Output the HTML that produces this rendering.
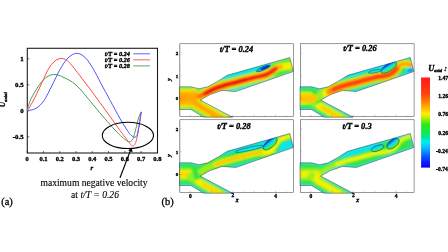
<!DOCTYPE html>
<html><head><meta charset="utf-8"><title>figure</title>
<style>
html,body{margin:0;padding:0;background:#fff;}
svg{display:block}
text{font-family:"Liberation Serif",serif;}
.bi{font-weight:bold;font-style:italic;stroke:#000;stroke-width:0.36px}
.b{font-weight:bold;stroke:#000;stroke-width:0.34px}
</style></head><body>
<svg width="448" height="252" viewBox="0 0 448 252">
<defs>
<filter id="bl" x="-10%" y="-10%" width="120%" height="120%"><feGaussianBlur stdDeviation="0.8"/></filter>
<filter id="bl2" x="-10%" y="-10%" width="120%" height="120%"><feGaussianBlur stdDeviation="0.5"/></filter>
<filter id="soft"><feGaussianBlur stdDeviation="0.35"/></filter>
<linearGradient id="cb" x1="0" y1="0" x2="0" y2="1">
<stop offset="0" stop-color="#ff1a1a"/>
<stop offset="0.18" stop-color="#ff4010"/>
<stop offset="0.26" stop-color="#ff7a00"/>
<stop offset="0.33" stop-color="#ffb000"/>
<stop offset="0.405" stop-color="#fff000"/>
<stop offset="0.45" stop-color="#b0f000"/>
<stop offset="0.52" stop-color="#30e818"/>
<stop offset="0.61" stop-color="#10e850"/>
<stop offset="0.67" stop-color="#00e8a0"/>
<stop offset="0.715" stop-color="#00f0f0"/>
<stop offset="0.79" stop-color="#10b0ff"/>
<stop offset="0.865" stop-color="#1060ff"/>
<stop offset="0.94" stop-color="#1020ff"/>
<stop offset="1" stop-color="#0000f0"/>
</linearGradient>

<linearGradient id="eg" x1="0" y1="0" x2="0" y2="1"><stop offset="0.02" stop-color="#1030e0"/><stop offset="0.2" stop-color="#1078f8"/><stop offset="0.4" stop-color="#10d4f8"/><stop offset="0.6" stop-color="#20e8a8"/><stop offset="0.82" stop-color="#48e848"/></linearGradient>
<linearGradient id="eg2" x1="0" y1="0" x2="0" y2="1"><stop offset="0.05" stop-color="#10b0ff"/><stop offset="0.45" stop-color="#10e8e0"/><stop offset="0.9" stop-color="#40e850"/></linearGradient>
<path id="chan" d="M179.50 86.80 L191.00 86.80 L199.00 88.80 L207.70 86.80 L217.00 81.70 L227.30 75.30 L289.80 57.50 L293.30 71.50 L235.80 91.50 L222.00 90.40 L210.00 94.60 L200.20 100.10 L232.50 117.20 L203.70 117.20 L191.00 109.50 L179.50 109.50Z"/>
<clipPath id="cc"><use href="#chan"/></clipPath>
</defs>
<g filter="url(#soft)">
<rect x="27.30" y="48.30" width="130.20" height="104.70" fill="none" stroke="#181818" stroke-width="1.05"/>
<path d="M27.20 153.00 v-2 M43.47 153.00 v-2 M59.74 153.00 v-2 M76.01 153.00 v-2 M92.28 153.00 v-2 M108.55 153.00 v-2 M124.82 153.00 v-2 M141.09 153.00 v-2 M157.36 153.00 v-2 M27.30 136.80 h2 M27.30 110.80 h2 M27.30 84.80 h2 M27.30 58.80 h2" stroke="#111" stroke-width="0.6" fill="none"/>
<text class="b" x="27.20" y="161.0" font-size="6.5" text-anchor="middle">0</text>
<text class="b" x="43.47" y="161.0" font-size="6.5" text-anchor="middle">0.1</text>
<text class="b" x="59.74" y="161.0" font-size="6.5" text-anchor="middle">0.2</text>
<text class="b" x="76.01" y="161.0" font-size="6.5" text-anchor="middle">0.3</text>
<text class="b" x="92.28" y="161.0" font-size="6.5" text-anchor="middle">0.4</text>
<text class="b" x="108.55" y="161.0" font-size="6.5" text-anchor="middle">0.5</text>
<text class="b" x="124.82" y="161.0" font-size="6.5" text-anchor="middle">0.6</text>
<text class="b" x="141.09" y="161.0" font-size="6.5" text-anchor="middle">0.7</text>
<text class="b" x="157.36" y="161.0" font-size="6.5" text-anchor="middle">0.8</text>
<text class="b" x="23.6" y="139.10" font-size="6.8" text-anchor="end">-0.5</text>
<text class="b" x="23.6" y="113.10" font-size="6.8" text-anchor="end">0</text>
<text class="b" x="23.6" y="87.10" font-size="6.8" text-anchor="end">0.5</text>
<text class="b" x="23.6" y="61.10" font-size="6.8" text-anchor="end">1</text>
<text class="bi" x="91.8" y="169.9" font-size="6.8" text-anchor="middle">r</text>
<text class="bi" transform="translate(5.3,107.3) rotate(-90)" font-size="7.5">U<tspan font-size="4.7" dy="1.3">axial</tspan></text>
<path d="M27.20 110.60 C27.50 109.50 28.37 105.97 29.00 104.00 C29.63 102.03 30.00 100.88 31.00 98.80 C32.00 96.72 33.67 93.73 35.00 91.50 C36.33 89.27 37.67 87.25 39.00 85.40 C40.33 83.55 41.50 81.93 43.00 80.40 C44.50 78.87 46.20 77.20 48.00 76.20 C49.80 75.20 51.97 74.55 53.80 74.40 C55.63 74.25 57.30 74.77 59.00 75.30 C60.70 75.83 62.17 76.72 64.00 77.60 C65.83 78.48 68.17 79.50 70.00 80.60 C71.83 81.70 73.33 82.80 75.00 84.20 C76.67 85.60 78.17 87.03 80.00 89.00 C81.83 90.97 83.50 93.00 86.00 96.00 C88.50 99.00 91.83 103.20 95.00 107.00 C98.17 110.80 101.67 114.97 105.00 118.80 C108.33 122.63 112.17 126.97 115.00 130.00 C117.83 133.03 120.08 135.23 122.00 137.00 C123.92 138.77 125.22 139.82 126.50 140.60 C127.78 141.38 128.73 141.83 129.70 141.70 C130.67 141.57 131.48 141.13 132.30 139.80 C133.12 138.47 133.55 137.35 134.60 133.70 C135.65 130.05 137.50 121.53 138.60 117.90 C139.70 114.27 140.77 112.90 141.20 111.90" fill="none" stroke="#4f9a55" stroke-width="1.0" stroke-linejoin="round"/>
<path d="M27.20 110.60 C27.83 109.63 29.70 107.03 31.00 104.80 C32.30 102.57 33.67 99.83 35.00 97.20 C36.33 94.57 37.53 92.12 39.00 89.00 C40.47 85.88 42.13 82.00 43.80 78.50 C45.47 75.00 47.30 70.78 49.00 68.00 C50.70 65.22 52.50 63.27 54.00 61.80 C55.50 60.33 56.72 59.75 58.00 59.20 C59.28 58.65 60.45 58.43 61.70 58.50 C62.95 58.57 64.12 58.82 65.50 59.60 C66.88 60.38 67.58 60.50 70.00 63.20 C72.42 65.90 76.67 71.50 80.00 75.80 C83.33 80.10 86.67 84.53 90.00 89.00 C93.33 93.47 96.67 98.02 100.00 102.60 C103.33 107.18 106.67 111.85 110.00 116.50 C113.33 121.15 117.17 126.62 120.00 130.50 C122.83 134.38 125.25 137.50 127.00 139.80 C128.75 142.10 129.55 143.27 130.50 144.30 C131.45 145.33 131.98 145.97 132.70 146.00 C133.42 146.03 134.12 145.75 134.80 144.50 C135.48 143.25 136.05 141.92 136.80 138.50 C137.55 135.08 138.57 128.43 139.30 124.00 C140.03 119.57 140.88 113.92 141.20 111.90" fill="none" stroke="#ff4848" stroke-width="1.0" stroke-linejoin="round"/>
<path d="M27.20 110.60 C28.67 110.23 33.20 110.08 36.00 108.40 C38.80 106.72 41.33 104.32 44.00 100.50 C46.67 96.68 49.33 90.67 52.00 85.50 C54.67 80.33 57.33 74.08 60.00 69.50 C62.67 64.92 65.23 60.70 68.00 58.00 C70.77 55.30 73.77 53.42 76.60 53.30 C79.43 53.18 82.27 54.77 85.00 57.30 C87.73 59.83 90.33 64.13 93.00 68.50 C95.67 72.87 98.17 78.22 101.00 83.50 C103.83 88.78 106.83 94.37 110.00 100.20 C113.17 106.03 117.00 113.28 120.00 118.50 C123.00 123.72 126.00 128.60 128.00 131.50 C130.00 134.40 130.87 134.95 132.00 135.90 C133.13 136.85 133.92 137.42 134.80 137.20 C135.68 136.98 136.55 136.63 137.30 134.60 C138.05 132.57 138.65 128.78 139.30 125.00 C139.95 121.22 140.88 114.08 141.20 111.90" fill="none" stroke="#4a56ff" stroke-width="1.0" stroke-linejoin="round"/>
<text class="bi" x="104.8" y="55.80" font-size="6.3">t/T = 0.24</text>
<path d="M133.3 53.80 H150" stroke="#4a56ff" stroke-width="0.9"/>
<text class="bi" x="104.8" y="61.85" font-size="6.3">t/T = 0.26</text>
<path d="M133.3 59.85 H150" stroke="#ff4848" stroke-width="0.9"/>
<text class="bi" x="104.8" y="67.90" font-size="6.3">t/T = 0.28</text>
<path d="M133.3 65.90 H150" stroke="#4f9a55" stroke-width="0.9"/>
<ellipse cx="127.9" cy="135.4" rx="25.6" ry="13.1" fill="none" stroke="#000" stroke-width="1.1"/>
<path d="M120.0 177.8 L130.5 150.4" stroke="#000" stroke-width="1.15" fill="none"/>
<path d="M131.6 147.4 L132.6 152.3 L128.3 150.6 Z" fill="#000"/>
<text x="94" y="186.2" font-size="9.6" text-anchor="middle" stroke="#000" stroke-width="0.12">maximum negative velocity</text>
<text x="95" y="198.0" font-size="9.6" text-anchor="middle" stroke="#000" stroke-width="0.12">at <tspan font-style="italic">t/T = 0.26</tspan></text>
<text x="1.2" y="205.3" font-size="10.4" stroke="#000" stroke-width="0.3">(a)</text>
<text x="161.6" y="205.3" font-size="10.4" stroke="#000" stroke-width="0.3">(b)</text>
<g transform="translate(0.00,0.00)">
<rect x="179.8" y="43.75" width="113.8" height="72.8" fill="none" stroke="#555" stroke-width="0.6"/>
<g clip-path="url(#cc)"><g filter="url(#bl)">
<use href="#chan" fill="#34e440"/><path d="M224.00 84.00 C228.33 82.77 242.00 78.90 250.00 76.60 C258.00 74.30 268.33 71.27 272.00 70.20" fill="none" stroke="#10e4ec" stroke-width="19.0" stroke-linecap="butt" opacity="1"/><path d="M170.00 98.20 C174.50 98.20 192.50 98.20 197.00 98.20" fill="none" stroke="#98f020" stroke-width="19.4" stroke-linecap="butt" opacity="1"/><path d="M170.00 98.20 C174.50 98.20 192.50 98.20 197.00 98.20" fill="none" stroke="#f6f000" stroke-width="17.8" stroke-linecap="butt" opacity="1"/><path d="M170.00 98.20 C174.50 98.20 192.50 98.20 197.00 98.20" fill="none" stroke="#ffd800" stroke-width="15.6" stroke-linecap="butt" opacity="1"/><path d="M188.00 98.60 C189.42 99.53 192.83 101.93 196.50 104.20 C200.17 106.47 205.08 109.35 210.00 112.20 C214.92 115.05 223.33 119.78 226.00 121.30" fill="none" stroke="#98f020" stroke-width="10.8" stroke-linecap="butt" opacity="1"/><path d="M188.00 98.60 C189.42 99.53 192.83 101.93 196.50 104.20 C200.17 106.47 205.08 109.35 210.00 112.20 C214.92 115.05 223.33 119.78 226.00 121.30" fill="none" stroke="#f6f000" stroke-width="9.4" stroke-linecap="butt" opacity="1"/><path d="M193.00 98.20 C194.33 97.77 198.33 96.70 201.00 95.60 C203.67 94.50 206.50 92.83 209.00 91.60 C211.50 90.37 213.33 89.27 216.00 88.20 C218.67 87.13 221.70 86.17 225.00 85.20 C228.30 84.23 232.47 83.28 235.80 82.40 C239.13 81.52 241.68 80.77 245.00 79.90 C248.32 79.03 252.87 77.87 255.70 77.20 C258.53 76.53 260.12 76.40 262.00 75.90 C263.88 75.40 265.50 74.85 267.00 74.20 C268.50 73.55 269.83 72.73 271.00 72.00 C272.17 71.27 273.00 70.47 274.00 69.80 C275.00 69.13 275.83 68.50 277.00 68.00 C278.17 67.50 279.50 67.10 281.00 66.80 C282.50 66.50 283.50 66.58 286.00 66.20 C288.50 65.82 294.33 64.78 296.00 64.50" fill="none" stroke="#34e440" stroke-width="12.2" stroke-linecap="butt" opacity="1"/><path d="M193.00 98.20 C194.33 97.77 198.33 96.70 201.00 95.60 C203.67 94.50 206.50 92.83 209.00 91.60 C211.50 90.37 213.33 89.27 216.00 88.20 C218.67 87.13 221.70 86.17 225.00 85.20 C228.30 84.23 232.47 83.28 235.80 82.40 C239.13 81.52 241.68 80.77 245.00 79.90 C248.32 79.03 252.87 77.87 255.70 77.20 C258.53 76.53 260.12 76.40 262.00 75.90 C263.88 75.40 265.50 74.85 267.00 74.20 C268.50 73.55 269.83 72.73 271.00 72.00 C272.17 71.27 273.50 70.17 274.00 69.80" fill="none" stroke="#98f020" stroke-width="10.4" stroke-linecap="butt" opacity="1"/><path d="M193.00 98.20 C194.33 97.77 198.33 96.70 201.00 95.60 C203.67 94.50 206.50 92.83 209.00 91.60 C211.50 90.37 213.33 89.27 216.00 88.20 C218.67 87.13 221.70 86.17 225.00 85.20 C228.30 84.23 232.47 83.28 235.80 82.40 C239.13 81.52 241.68 80.77 245.00 79.90 C248.32 79.03 252.87 77.87 255.70 77.20 C258.53 76.53 260.12 76.40 262.00 75.90 C263.88 75.40 265.50 74.85 267.00 74.20 C268.50 73.55 269.83 72.73 271.00 72.00 C272.17 71.27 273.50 70.17 274.00 69.80" fill="none" stroke="#f6f000" stroke-width="8.8" stroke-linecap="butt" opacity="1"/><path d="M271.00 72.00 C271.50 71.63 273.00 70.47 274.00 69.80 C275.00 69.13 275.83 68.50 277.00 68.00 C278.17 67.50 279.50 67.10 281.00 66.80 C282.50 66.50 283.50 66.58 286.00 66.20 C288.50 65.82 294.33 64.78 296.00 64.50" fill="none" stroke="#98f020" stroke-width="9.0" stroke-linecap="butt" opacity="1"/><path d="M271.00 72.00 C271.50 71.63 273.00 70.47 274.00 69.80 C275.00 69.13 275.83 68.50 277.00 68.00 C278.17 67.50 279.50 67.10 281.00 66.80 C282.50 66.50 283.50 66.58 286.00 66.20 C288.50 65.82 294.33 64.78 296.00 64.50" fill="none" stroke="#f6f000" stroke-width="6.0" stroke-linecap="butt" opacity="1"/><path d="M170.00 98.20 C174.50 98.20 192.50 98.20 197.00 98.20" fill="none" stroke="#ffbc00" stroke-width="13.8" stroke-linecap="butt" opacity="1"/><path d="M170.00 98.20 C174.50 98.20 192.50 98.20 197.00 98.20" fill="none" stroke="#ffac00" stroke-width="10.5" stroke-linecap="butt" opacity="1"/><path d="M170.00 98.20 C174.50 98.20 192.50 98.20 197.00 98.20" fill="none" stroke="#ffa000" stroke-width="6.0" stroke-linecap="butt" opacity="1"/><path d="M188.00 98.60 C189.42 99.53 192.83 101.93 196.50 104.20 C200.17 106.47 205.08 109.35 210.00 112.20 C214.92 115.05 223.33 119.78 226.00 121.30" fill="none" stroke="#ffbc00" stroke-width="6.6" stroke-linecap="butt" opacity="1"/><path d="M188.00 98.60 C189.42 99.53 192.83 101.93 196.50 104.20 C200.17 106.47 205.08 109.35 210.00 112.20 C214.92 115.05 223.33 119.78 226.00 121.30" fill="none" stroke="#ffa800" stroke-width="4.0" stroke-linecap="butt" opacity="1"/><path d="M193.00 98.20 C194.33 97.77 198.33 96.70 201.00 95.60 C203.67 94.50 206.50 92.83 209.00 91.60 C211.50 90.37 213.33 89.27 216.00 88.20 C218.67 87.13 221.70 86.17 225.00 85.20 C228.30 84.23 232.47 83.28 235.80 82.40 C239.13 81.52 241.68 80.77 245.00 79.90 C248.32 79.03 252.87 77.87 255.70 77.20 C258.53 76.53 260.12 76.40 262.00 75.90 C263.88 75.40 265.50 74.85 267.00 74.20 C268.50 73.55 269.83 72.73 271.00 72.00 C272.17 71.27 273.50 70.17 274.00 69.80" fill="none" stroke="#ffa400" stroke-width="6.0" stroke-linecap="round" opacity="1"/><path d="M271.00 72.00 C271.50 71.63 273.00 70.47 274.00 69.80 C275.00 69.13 275.83 68.50 277.00 68.00 C278.17 67.50 280.33 67.00 281.00 66.80" fill="none" stroke="#ffa400" stroke-width="3.8" stroke-linecap="round" opacity="1"/><path d="M200.00 96.20 C201.50 95.43 206.33 92.93 209.00 91.60 C211.67 90.27 213.33 89.27 216.00 88.20 C218.67 87.13 223.50 85.70 225.00 85.20" fill="none" stroke="#fc6a08" stroke-width="4.8" stroke-linecap="round" opacity="1"/><path d="M205.50 93.40 C206.08 93.10 207.25 92.47 209.00 91.60 C210.75 90.73 213.33 89.27 216.00 88.20 C218.67 87.13 221.70 86.17 225.00 85.20 C228.30 84.23 232.47 83.28 235.80 82.40 C239.13 81.52 241.68 80.77 245.00 79.90 C248.32 79.03 252.87 77.87 255.70 77.20 C258.53 76.53 260.12 76.40 262.00 75.90 C263.88 75.40 265.50 74.85 267.00 74.20 C268.50 73.55 269.83 72.73 271.00 72.00 C272.17 71.27 273.23 70.33 274.00 69.80 C274.77 69.27 275.33 68.97 275.60 68.80" fill="none" stroke="#f82410" stroke-width="4.8" stroke-linecap="round" opacity="1"/><path d="M207.50 92.40 C208.92 91.70 213.08 89.40 216.00 88.20 C218.92 87.00 221.70 86.17 225.00 85.20 C228.30 84.23 232.47 83.28 235.80 82.40 C239.13 81.52 243.47 80.32 245.00 79.90" fill="none" stroke="#f41c10" stroke-width="5.6" stroke-linecap="round" opacity="1"/>
</g>
<g filter="url(#bl2)"><ellipse cx="263.4" cy="68.5" rx="7.5" ry="1.7" transform="rotate(-23 263.4 68.5)" fill="#18b8f0" stroke="#012" stroke-width="0.4"/><ellipse cx="265" cy="67.6" rx="5" ry="1.25" transform="rotate(-23 265 67.6)" fill="#1030d8"/></g>
</g>
<use href="#chan" fill="none" stroke="#222" stroke-width="0.45"/>
<path d="M190.30 116.55 v-1.8 M200.95 116.55 v-1.1 M211.60 116.55 v-1.8 M222.25 116.55 v-1.1 M232.90 116.55 v-1.8 M243.55 116.55 v-1.1 M254.20 116.55 v-1.8 M264.85 116.55 v-1.1 M275.50 116.55 v-1.8 M286.15 116.55 v-1.1 M179.8 114.56 h0.9 M179.8 112.28 h0.9 M179.8 110.00 h0.9 M179.8 107.72 h0.9 M179.8 105.44 h0.9 M179.8 103.16 h0.9 M179.8 100.88 h0.9 M179.8 98.60 h1.8 M179.8 96.32 h0.9 M179.8 94.04 h0.9 M179.8 91.76 h0.9 M179.8 89.48 h0.9 M179.8 87.20 h0.9 M179.8 84.92 h0.9 M179.8 82.64 h0.9 M179.8 80.36 h0.9 M179.8 78.08 h0.9 M179.8 75.80 h1.8 M179.8 73.52 h0.9 M179.8 71.24 h0.9 M179.8 68.96 h0.9 M179.8 66.68 h0.9 M179.8 64.40 h0.9 M179.8 62.12 h0.9 M179.8 59.84 h0.9 M179.8 57.56 h0.9 M179.8 55.28 h0.9 M179.8 53.00 h1.8 M179.8 50.72 h0.9 M179.8 48.44 h0.9 M179.8 46.16 h0.9" stroke="#666" stroke-width="0.35" fill="none"/>
<text class="bi" x="236.45" y="51.50" font-size="8.4" text-anchor="middle">t/T = 0.24</text>
</g>
<g transform="translate(120.50,0.00)">
<rect x="179.8" y="43.75" width="113.8" height="72.8" fill="none" stroke="#555" stroke-width="0.6"/>
<g clip-path="url(#cc)"><g filter="url(#bl)">
<use href="#chan" fill="#34e440"/><use href="#chan" fill="none" stroke="#10e4ec" stroke-width="1.9"/><path d="M224.00 84.00 C228.33 82.77 242.00 78.90 250.00 76.60 C258.00 74.30 268.33 71.27 272.00 70.20" fill="none" stroke="#10e4ec" stroke-width="19.0" stroke-linecap="butt" opacity="1"/><path d="M170.00 98.20 C174.33 98.20 191.67 98.20 196.00 98.20" fill="none" stroke="#98f020" stroke-width="13.6" stroke-linecap="round" opacity="1"/><path d="M170.00 98.20 C174.08 98.20 190.42 98.20 194.50 98.20" fill="none" stroke="#f6f000" stroke-width="11.0" stroke-linecap="round" opacity="1"/><path d="M188.00 98.60 C189.42 99.53 192.83 101.93 196.50 104.20 C200.17 106.47 205.08 109.35 210.00 112.20 C214.92 115.05 223.33 119.78 226.00 121.30" fill="none" stroke="#98f020" stroke-width="8.8" stroke-linecap="butt" opacity="1"/><path d="M198.50 105.60 C200.42 106.70 205.42 109.58 210.00 112.20 C214.58 114.82 223.33 119.78 226.00 121.30" fill="none" stroke="#f6f000" stroke-width="6.4" stroke-linecap="round" opacity="1"/><path d="M193.00 98.20 C194.33 97.77 198.33 96.70 201.00 95.60 C203.67 94.50 206.50 92.83 209.00 91.60 C211.50 90.37 213.33 89.27 216.00 88.20 C218.67 87.13 221.70 86.17 225.00 85.20 C228.30 84.23 232.47 83.28 235.80 82.40 C239.13 81.52 241.68 80.77 245.00 79.90 C248.32 79.03 252.87 77.82 255.70 77.20 C258.53 76.58 259.95 76.58 262.00 76.20 C264.05 75.82 266.25 75.53 268.00 74.90 C269.75 74.27 271.17 73.42 272.50 72.40 C273.83 71.38 275.42 69.40 276.00 68.80" fill="none" stroke="#34e440" stroke-width="13.0" stroke-linecap="butt" opacity="1"/><path d="M272.50 72.40 C273.08 71.80 274.92 69.93 276.00 68.80 C277.08 67.67 277.92 66.42 279.00 65.60 C280.08 64.78 281.33 64.18 282.50 63.90 C283.67 63.62 284.75 63.72 286.00 63.90 C287.25 64.08 288.17 64.48 290.00 65.00 C291.83 65.52 295.83 66.67 297.00 67.00" fill="none" stroke="#34e440" stroke-width="10.5" stroke-linecap="butt" opacity="1"/><path d="M201.00 95.60 C202.33 94.93 206.50 92.83 209.00 91.60 C211.50 90.37 213.33 89.27 216.00 88.20 C218.67 87.13 221.70 86.17 225.00 85.20 C228.30 84.23 232.47 83.28 235.80 82.40 C239.13 81.52 241.68 80.77 245.00 79.90 C248.32 79.03 252.87 77.82 255.70 77.20 C258.53 76.58 259.95 76.58 262.00 76.20 C264.05 75.82 266.25 75.53 268.00 74.90 C269.75 74.27 271.17 73.42 272.50 72.40 C273.83 71.38 275.42 69.40 276.00 68.80" fill="none" stroke="#98f020" stroke-width="10.6" stroke-linecap="round" opacity="1"/><path d="M272.50 72.40 C273.08 71.80 274.92 69.93 276.00 68.80 C277.08 67.67 277.92 66.42 279.00 65.60 C280.08 64.78 281.33 64.18 282.50 63.90 C283.67 63.62 284.75 63.72 286.00 63.90 C287.25 64.08 288.17 64.48 290.00 65.00 C291.83 65.52 295.83 66.67 297.00 67.00" fill="none" stroke="#98f020" stroke-width="8.2" stroke-linecap="round" opacity="1"/><path d="M206.00 93.20 C207.67 92.37 212.83 89.53 216.00 88.20 C219.17 86.87 221.70 86.17 225.00 85.20 C228.30 84.23 232.47 83.28 235.80 82.40 C239.13 81.52 241.68 80.77 245.00 79.90 C248.32 79.03 252.87 77.82 255.70 77.20 C258.53 76.58 259.95 76.58 262.00 76.20 C264.05 75.82 266.25 75.53 268.00 74.90 C269.75 74.27 271.17 73.42 272.50 72.40 C273.83 71.38 275.42 69.40 276.00 68.80" fill="none" stroke="#f6f000" stroke-width="8.4" stroke-linecap="round" opacity="1"/><path d="M272.50 72.40 C273.08 71.80 274.92 69.93 276.00 68.80 C277.08 67.67 277.92 66.42 279.00 65.60 C280.08 64.78 281.33 64.18 282.50 63.90 C283.67 63.62 284.75 63.72 286.00 63.90 C287.25 64.08 288.17 64.48 290.00 65.00 C291.83 65.52 295.83 66.67 297.00 67.00" fill="none" stroke="#f6f000" stroke-width="5.8" stroke-linecap="round" opacity="1"/><path d="M170.00 98.20 C173.83 98.20 189.17 98.20 193.00 98.20" fill="none" stroke="#ffc400" stroke-width="8.0" stroke-linecap="round" opacity="1"/><path d="M202.00 107.60 C203.33 108.37 206.00 109.92 210.00 112.20 C214.00 114.48 223.33 119.78 226.00 121.30" fill="none" stroke="#ffc400" stroke-width="2.8" stroke-linecap="round" opacity="1"/><path d="M208.50 91.90 C209.75 91.28 213.25 89.32 216.00 88.20 C218.75 87.08 221.70 86.17 225.00 85.20 C228.30 84.23 232.47 83.28 235.80 82.40 C239.13 81.52 241.68 80.77 245.00 79.90 C248.32 79.03 252.87 77.82 255.70 77.20 C258.53 76.58 259.95 76.58 262.00 76.20 C264.05 75.82 266.25 75.53 268.00 74.90 C269.75 74.27 271.17 73.42 272.50 72.40 C273.83 71.38 275.42 69.40 276.00 68.80" fill="none" stroke="#ffc000" stroke-width="7.4" stroke-linecap="round" opacity="1"/><path d="M209.50 91.40 C210.58 90.87 213.42 89.23 216.00 88.20 C218.58 87.17 221.70 86.17 225.00 85.20 C228.30 84.23 232.47 83.28 235.80 82.40 C239.13 81.52 241.68 80.77 245.00 79.90 C248.32 79.03 252.87 77.82 255.70 77.20 C258.53 76.58 259.95 76.58 262.00 76.20 C264.05 75.82 266.25 75.53 268.00 74.90 C269.75 74.27 271.17 73.42 272.50 72.40 C273.83 71.38 275.42 69.40 276.00 68.80" fill="none" stroke="#ff8a00" stroke-width="6.2" stroke-linecap="round" opacity="1"/><path d="M272.50 72.40 C273.08 71.80 274.92 69.93 276.00 68.80 C277.08 67.67 277.92 66.42 279.00 65.60 C280.08 64.78 281.33 64.18 282.50 63.90 C283.67 63.62 284.75 63.72 286.00 63.90 C287.25 64.08 288.17 64.48 290.00 65.00 C291.83 65.52 295.83 66.67 297.00 67.00" fill="none" stroke="#ff9800" stroke-width="3.4" stroke-linecap="round" opacity="1"/><path d="M213.00 89.60 C215.00 88.87 221.20 86.40 225.00 85.20 C228.80 84.00 232.47 83.28 235.80 82.40 C239.13 81.52 241.68 80.77 245.00 79.90 C248.32 79.03 252.87 77.82 255.70 77.20 C258.53 76.58 259.95 76.58 262.00 76.20 C264.05 75.82 266.25 75.53 268.00 74.90 C269.75 74.27 271.17 73.42 272.50 72.40 C273.83 71.38 275.42 69.40 276.00 68.80" fill="none" stroke="#fc3c10" stroke-width="4.0" stroke-linecap="round" opacity="1"/><path d="M214.00 89.20 C215.83 88.53 221.37 86.33 225.00 85.20 C228.63 84.07 232.47 83.28 235.80 82.40 C239.13 81.52 243.47 80.32 245.00 79.90" fill="none" stroke="#ff4410" stroke-width="5.0" stroke-linecap="round" opacity="1"/><ellipse cx="289.2" cy="70.3" rx="5.6" ry="2.7" transform="rotate(-17 288.6 70.0)" fill="#10e4ec"/><ellipse cx="289.6" cy="70.4" rx="2.8" ry="1.3" transform="rotate(-17 289.4 70.3)" fill="#1060ff"/>
</g>
<g filter="url(#bl2)"><ellipse cx="268.3" cy="67.6" rx="9.0" ry="3.6" transform="rotate(-32.0 268.3 67.6)" fill="url(#eg)" stroke="#012" stroke-width="0.40"/><ellipse cx="254.3" cy="71.4" rx="6.6" ry="1.4" transform="rotate(-11.0 254.3 71.4)" fill="#10e4ec" stroke="#012" stroke-width="0.35"/></g>
</g>
<use href="#chan" fill="none" stroke="#222" stroke-width="0.45"/>
<path d="M190.30 116.55 v-1.8 M200.95 116.55 v-1.1 M211.60 116.55 v-1.8 M222.25 116.55 v-1.1 M232.90 116.55 v-1.8 M243.55 116.55 v-1.1 M254.20 116.55 v-1.8 M264.85 116.55 v-1.1 M275.50 116.55 v-1.8 M286.15 116.55 v-1.1 M179.8 114.56 h0.9 M179.8 112.28 h0.9 M179.8 110.00 h0.9 M179.8 107.72 h0.9 M179.8 105.44 h0.9 M179.8 103.16 h0.9 M179.8 100.88 h0.9 M179.8 98.60 h1.8 M179.8 96.32 h0.9 M179.8 94.04 h0.9 M179.8 91.76 h0.9 M179.8 89.48 h0.9 M179.8 87.20 h0.9 M179.8 84.92 h0.9 M179.8 82.64 h0.9 M179.8 80.36 h0.9 M179.8 78.08 h0.9 M179.8 75.80 h1.8 M179.8 73.52 h0.9 M179.8 71.24 h0.9 M179.8 68.96 h0.9 M179.8 66.68 h0.9 M179.8 64.40 h0.9 M179.8 62.12 h0.9 M179.8 59.84 h0.9 M179.8 57.56 h0.9 M179.8 55.28 h0.9 M179.8 53.00 h1.8 M179.8 50.72 h0.9 M179.8 48.44 h0.9 M179.8 46.16 h0.9" stroke="#666" stroke-width="0.35" fill="none"/>
<text class="bi" x="239.40" y="51.20" font-size="8.4" text-anchor="middle">t/T = 0.26</text>
</g>
<g transform="translate(0.00,76.00)">
<rect x="179.8" y="43.75" width="113.8" height="72.8" fill="none" stroke="#555" stroke-width="0.6"/>
<g clip-path="url(#cc)"><g filter="url(#bl)">
<use href="#chan" fill="#34e440"/><use href="#chan" fill="none" stroke="#10e4ec" stroke-width="1.9"/><path d="M224.00 84.00 C228.33 82.77 242.00 78.90 250.00 76.60 C258.00 74.30 268.33 71.27 272.00 70.20" fill="none" stroke="#10e4ec" stroke-width="19.0" stroke-linecap="butt" opacity="1"/><path d="M279.00 71.60 C281.67 70.83 292.33 67.77 295.00 67.00" fill="none" stroke="#10e4ec" stroke-width="7.5" stroke-linecap="butt" opacity="1"/><path d="M170.00 98.20 C174.67 98.20 193.33 98.20 198.00 98.20" fill="none" stroke="#98f020" stroke-width="12.0" stroke-linecap="round" opacity="1"/><path d="M170.00 98.20 C174.42 98.20 192.08 98.20 196.50 98.20" fill="none" stroke="#f6f000" stroke-width="7.8" stroke-linecap="round" opacity="1"/><path d="M170.00 98.20 C173.67 98.20 188.33 98.20 192.00 98.20" fill="none" stroke="#ffd400" stroke-width="3.6" stroke-linecap="round" opacity="1"/><path d="M188.00 98.60 C189.42 99.53 192.83 101.93 196.50 104.20 C200.17 106.47 205.08 109.35 210.00 112.20 C214.92 115.05 223.33 119.78 226.00 121.30" fill="none" stroke="#98f020" stroke-width="8.4" stroke-linecap="butt" opacity="1"/><path d="M198.50 105.60 C200.42 106.70 205.42 109.58 210.00 112.20 C214.58 114.82 223.33 119.78 226.00 121.30" fill="none" stroke="#f6f000" stroke-width="6.0" stroke-linecap="round" opacity="1"/><path d="M203.00 108.20 C204.17 108.87 206.17 110.02 210.00 112.20 C213.83 114.38 223.33 119.78 226.00 121.30" fill="none" stroke="#ffc800" stroke-width="2.4" stroke-linecap="round" opacity="1"/><path d="M193.00 98.20 C194.33 97.77 198.33 96.70 201.00 95.60 C203.67 94.50 206.50 92.83 209.00 91.60 C211.50 90.37 213.33 89.27 216.00 88.20 C218.67 87.13 221.70 86.17 225.00 85.20 C228.30 84.23 232.47 83.28 235.80 82.40 C239.13 81.52 241.68 80.77 245.00 79.90 C248.32 79.03 252.87 77.75 255.70 77.20 C258.53 76.65 259.95 76.83 262.00 76.60 C264.05 76.37 266.25 76.30 268.00 75.80 C269.75 75.30 271.75 73.97 272.50 73.60" fill="none" stroke="#34e440" stroke-width="13.0" stroke-linecap="butt" opacity="1"/><path d="M268.00 75.80 C268.75 75.43 271.25 74.63 272.50 73.60 C273.75 72.57 274.58 70.93 275.50 69.60 C276.42 68.27 277.08 66.67 278.00 65.60 C278.92 64.53 279.83 63.87 281.00 63.20 C282.17 62.53 283.17 62.22 285.00 61.60 C286.83 60.98 290.83 59.85 292.00 59.50" fill="none" stroke="#34e440" stroke-width="8.0" stroke-linecap="butt" opacity="1"/><path d="M201.00 95.60 C202.33 94.93 206.50 92.83 209.00 91.60 C211.50 90.37 213.33 89.27 216.00 88.20 C218.67 87.13 221.70 86.17 225.00 85.20 C228.30 84.23 232.47 83.28 235.80 82.40 C239.13 81.52 241.68 80.77 245.00 79.90 C248.32 79.03 252.87 77.75 255.70 77.20 C258.53 76.65 259.95 76.83 262.00 76.60 C264.05 76.37 266.25 76.30 268.00 75.80 C269.75 75.30 271.75 73.97 272.50 73.60" fill="none" stroke="#98f020" stroke-width="6.6" stroke-linecap="round" opacity="1"/><path d="M268.00 75.80 C268.75 75.43 271.25 74.63 272.50 73.60 C273.75 72.57 274.58 70.93 275.50 69.60 C276.42 68.27 277.08 66.67 278.00 65.60 C278.92 64.53 279.83 63.87 281.00 63.20 C282.17 62.53 283.17 62.22 285.00 61.60 C286.83 60.98 290.83 59.85 292.00 59.50" fill="none" stroke="#98f020" stroke-width="5.0" stroke-linecap="round" opacity="1"/><path d="M216.00 88.20 C217.50 87.70 221.70 86.17 225.00 85.20 C228.30 84.23 232.47 83.28 235.80 82.40 C239.13 81.52 241.68 80.77 245.00 79.90 C248.32 79.03 252.87 77.75 255.70 77.20 C258.53 76.65 259.95 76.83 262.00 76.60 C264.05 76.37 266.25 76.30 268.00 75.80 C269.75 75.30 271.75 73.97 272.50 73.60" fill="none" stroke="#fcf400" stroke-width="4.6" stroke-linecap="round" opacity="1"/><path d="M268.00 75.80 C268.75 75.43 271.25 74.63 272.50 73.60 C273.75 72.57 274.58 70.93 275.50 69.60 C276.42 68.27 277.08 66.67 278.00 65.60 C278.92 64.53 279.83 63.87 281.00 63.20 C282.17 62.53 283.17 62.22 285.00 61.60 C286.83 60.98 290.83 59.85 292.00 59.50" fill="none" stroke="#fcf400" stroke-width="3.0" stroke-linecap="round" opacity="1"/><path d="M216.00 88.20 C217.50 87.70 221.70 86.17 225.00 85.20 C228.30 84.23 232.47 83.28 235.80 82.40 C239.13 81.52 241.68 80.77 245.00 79.90 C248.32 79.03 252.87 77.75 255.70 77.20 C258.53 76.65 260.95 76.70 262.00 76.60" fill="none" stroke="#ffb000" stroke-width="2.2" stroke-linecap="round" opacity="1"/>
</g>
<g filter="url(#bl2)"><ellipse cx="270.2" cy="67.8" rx="8.6" ry="3.9" transform="rotate(-40.0 270.2 67.8)" fill="url(#eg)" stroke="#012" stroke-width="0.40"/><ellipse cx="249.4" cy="72.9" rx="14.6" ry="1.7" transform="rotate(-12.5 249.4 72.9)" fill="#10e4ec" stroke="#012" stroke-width="0.35"/></g>
</g>
<use href="#chan" fill="none" stroke="#222" stroke-width="0.45"/>
<path d="M190.30 116.55 v-1.8 M200.95 116.55 v-1.1 M211.60 116.55 v-1.8 M222.25 116.55 v-1.1 M232.90 116.55 v-1.8 M243.55 116.55 v-1.1 M254.20 116.55 v-1.8 M264.85 116.55 v-1.1 M275.50 116.55 v-1.8 M286.15 116.55 v-1.1 M179.8 114.56 h0.9 M179.8 112.28 h0.9 M179.8 110.00 h0.9 M179.8 107.72 h0.9 M179.8 105.44 h0.9 M179.8 103.16 h0.9 M179.8 100.88 h0.9 M179.8 98.60 h1.8 M179.8 96.32 h0.9 M179.8 94.04 h0.9 M179.8 91.76 h0.9 M179.8 89.48 h0.9 M179.8 87.20 h0.9 M179.8 84.92 h0.9 M179.8 82.64 h0.9 M179.8 80.36 h0.9 M179.8 78.08 h0.9 M179.8 75.80 h1.8 M179.8 73.52 h0.9 M179.8 71.24 h0.9 M179.8 68.96 h0.9 M179.8 66.68 h0.9 M179.8 64.40 h0.9 M179.8 62.12 h0.9 M179.8 59.84 h0.9 M179.8 57.56 h0.9 M179.8 55.28 h0.9 M179.8 53.00 h1.8 M179.8 50.72 h0.9 M179.8 48.44 h0.9 M179.8 46.16 h0.9" stroke="#666" stroke-width="0.35" fill="none"/>
<text class="bi" x="233.90" y="52.90" font-size="8.4" text-anchor="middle">t/T = 0.28</text>
</g>
<g transform="translate(120.50,76.00)">
<rect x="179.8" y="43.75" width="113.8" height="72.8" fill="none" stroke="#555" stroke-width="0.6"/>
<g clip-path="url(#cc)"><g filter="url(#bl)">
<use href="#chan" fill="#34e440"/><use href="#chan" fill="none" stroke="#10e4ec" stroke-width="1.9"/><path d="M220.00 79.50 C223.33 78.48 233.33 75.42 240.00 73.40 C246.67 71.38 256.67 68.40 260.00 67.40" fill="none" stroke="#10e4ec" stroke-width="6.5" stroke-linecap="butt" opacity="1"/><path d="M170.00 98.20 C174.67 98.20 193.33 98.20 198.00 98.20" fill="none" stroke="#98f020" stroke-width="11.4" stroke-linecap="round" opacity="1"/><path d="M170.00 98.20 C174.50 98.27 192.50 98.53 197.00 98.60" fill="none" stroke="#f6f000" stroke-width="6.2" stroke-linecap="round" opacity="1"/><path d="M188.00 98.60 C189.42 99.53 192.83 101.93 196.50 104.20 C200.17 106.47 205.08 109.35 210.00 112.20 C214.92 115.05 223.33 119.78 226.00 121.30" fill="none" stroke="#98f020" stroke-width="8.2" stroke-linecap="butt" opacity="1"/><path d="M196.00 101.50 C196.08 101.95 194.17 102.42 196.50 104.20 C198.83 105.98 205.08 109.35 210.00 112.20 C214.92 115.05 223.33 119.78 226.00 121.30" fill="none" stroke="#f6f000" stroke-width="5.2" stroke-linecap="round" opacity="1"/><path d="M201.00 95.60 C202.33 94.93 206.50 92.83 209.00 91.60 C211.50 90.37 213.33 89.27 216.00 88.20 C218.67 87.13 221.70 86.17 225.00 85.20 C228.30 84.23 232.47 83.28 235.80 82.40 C239.13 81.52 241.68 80.77 245.00 79.90 C248.32 79.03 252.87 77.78 255.70 77.20 C258.53 76.62 259.95 76.73 262.00 76.40 C264.05 76.07 266.17 75.73 268.00 75.20 C269.83 74.67 271.58 74.13 273.00 73.20 C274.42 72.27 275.50 70.80 276.50 69.60 C277.50 68.40 278.08 67.03 279.00 66.00 C279.92 64.97 280.83 64.13 282.00 63.40 C283.17 62.67 284.33 62.20 286.00 61.60 C287.67 61.00 291.00 60.10 292.00 59.80" fill="none" stroke="#98f020" stroke-width="4.8" stroke-linecap="round" opacity="1"/><path d="M216.00 88.20 C217.50 87.70 221.70 86.17 225.00 85.20 C228.30 84.23 232.47 83.28 235.80 82.40 C239.13 81.52 241.68 80.77 245.00 79.90 C248.32 79.03 252.87 77.78 255.70 77.20 C258.53 76.62 259.95 76.73 262.00 76.40 C264.05 76.07 266.17 75.73 268.00 75.20 C269.83 74.67 271.58 74.13 273.00 73.20 C274.42 72.27 275.92 70.20 276.50 69.60" fill="none" stroke="#fcf400" stroke-width="2.8" stroke-linecap="round" opacity="1"/><path d="M273.00 73.20 C273.58 72.60 275.50 70.80 276.50 69.60 C277.50 68.40 278.08 67.03 279.00 66.00 C279.92 64.97 280.83 64.13 282.00 63.40 C283.17 62.67 284.33 62.20 286.00 61.60 C287.67 61.00 291.00 60.10 292.00 59.80" fill="none" stroke="#fcf400" stroke-width="2.0" stroke-linecap="round" opacity="1"/>
</g>
<g filter="url(#bl2)"><ellipse cx="257.0" cy="72.2" rx="6.7" ry="2.7" transform="rotate(-21.0 257.0 72.2)" fill="url(#eg2)" stroke="#012" stroke-width="0.40"/><ellipse cx="272.5" cy="67.7" rx="7.2" ry="3.9" transform="rotate(-38.0 272.5 67.7)" fill="url(#eg)" stroke="#012" stroke-width="0.40"/></g>
</g>
<use href="#chan" fill="none" stroke="#222" stroke-width="0.45"/>
<path d="M190.30 116.55 v-1.8 M200.95 116.55 v-1.1 M211.60 116.55 v-1.8 M222.25 116.55 v-1.1 M232.90 116.55 v-1.8 M243.55 116.55 v-1.1 M254.20 116.55 v-1.8 M264.85 116.55 v-1.1 M275.50 116.55 v-1.8 M286.15 116.55 v-1.1 M179.8 114.56 h0.9 M179.8 112.28 h0.9 M179.8 110.00 h0.9 M179.8 107.72 h0.9 M179.8 105.44 h0.9 M179.8 103.16 h0.9 M179.8 100.88 h0.9 M179.8 98.60 h1.8 M179.8 96.32 h0.9 M179.8 94.04 h0.9 M179.8 91.76 h0.9 M179.8 89.48 h0.9 M179.8 87.20 h0.9 M179.8 84.92 h0.9 M179.8 82.64 h0.9 M179.8 80.36 h0.9 M179.8 78.08 h0.9 M179.8 75.80 h1.8 M179.8 73.52 h0.9 M179.8 71.24 h0.9 M179.8 68.96 h0.9 M179.8 66.68 h0.9 M179.8 64.40 h0.9 M179.8 62.12 h0.9 M179.8 59.84 h0.9 M179.8 57.56 h0.9 M179.8 55.28 h0.9 M179.8 53.00 h1.8 M179.8 50.72 h0.9 M179.8 48.44 h0.9 M179.8 46.16 h0.9" stroke="#666" stroke-width="0.35" fill="none"/>
<text class="bi" x="236.50" y="52.50" font-size="8.4" text-anchor="middle">t/T = 0.3</text>
</g>
<text class="b" x="177.1" y="54.7" font-size="5" text-anchor="middle">2</text>
<text class="b" x="177.1" y="77.5" font-size="5" text-anchor="middle">1</text>
<text class="b" x="177.1" y="100.3" font-size="5" text-anchor="middle">0</text>
<text class="bi" transform="translate(171.3,79.5) rotate(-90)" font-size="5.5" text-anchor="middle">y</text>
<text class="b" x="177.1" y="130.7" font-size="5" text-anchor="middle">2</text>
<text class="b" x="177.1" y="153.5" font-size="5" text-anchor="middle">1</text>
<text class="b" x="177.1" y="176.3" font-size="5" text-anchor="middle">0</text>
<text class="bi" transform="translate(171.3,155.5) rotate(-90)" font-size="5.5" text-anchor="middle">y</text>
<text class="b" x="190.30" y="198.20" font-size="5.5" text-anchor="middle">0</text>
<text class="b" x="232.90" y="197.20" font-size="5.5" text-anchor="middle">2</text>
<text class="b" x="275.50" y="198.20" font-size="5.5" text-anchor="middle">4</text>
<text class="bi" x="237.00" y="201.60" font-size="4.8" text-anchor="middle">X</text>
<text class="b" x="310.80" y="198.20" font-size="5.5" text-anchor="middle">0</text>
<text class="b" x="353.40" y="197.20" font-size="5.5" text-anchor="middle">2</text>
<text class="b" x="396.00" y="198.20" font-size="5.5" text-anchor="middle">4</text>
<text class="bi" x="357.50" y="201.60" font-size="4.8" text-anchor="middle">X</text>
<rect x="421.1" y="77.5" width="8.9" height="90.1" fill="url(#cb)"/>
<text class="bi" x="428.3" y="71" font-size="8.4">U<tspan font-size="3.8" dy="1.4">axial</tspan><tspan font-size="8.4" dy="-1.4"> :</tspan></text>
<text class="b" x="438.3" y="80.20" font-size="5.6">1.47</text>
<text class="b" x="438.3" y="98.30" font-size="5.6">1.26</text>
<text class="b" x="438.3" y="116.40" font-size="5.6">0.76</text>
<text class="b" x="438.3" y="134.50" font-size="5.6">0.26</text>
<text class="b" x="436.1" y="152.60" font-size="5.6">-0.24</text>
<text class="b" x="436.1" y="170.70" font-size="5.6">-0.74</text>
</g></svg></body></html>
